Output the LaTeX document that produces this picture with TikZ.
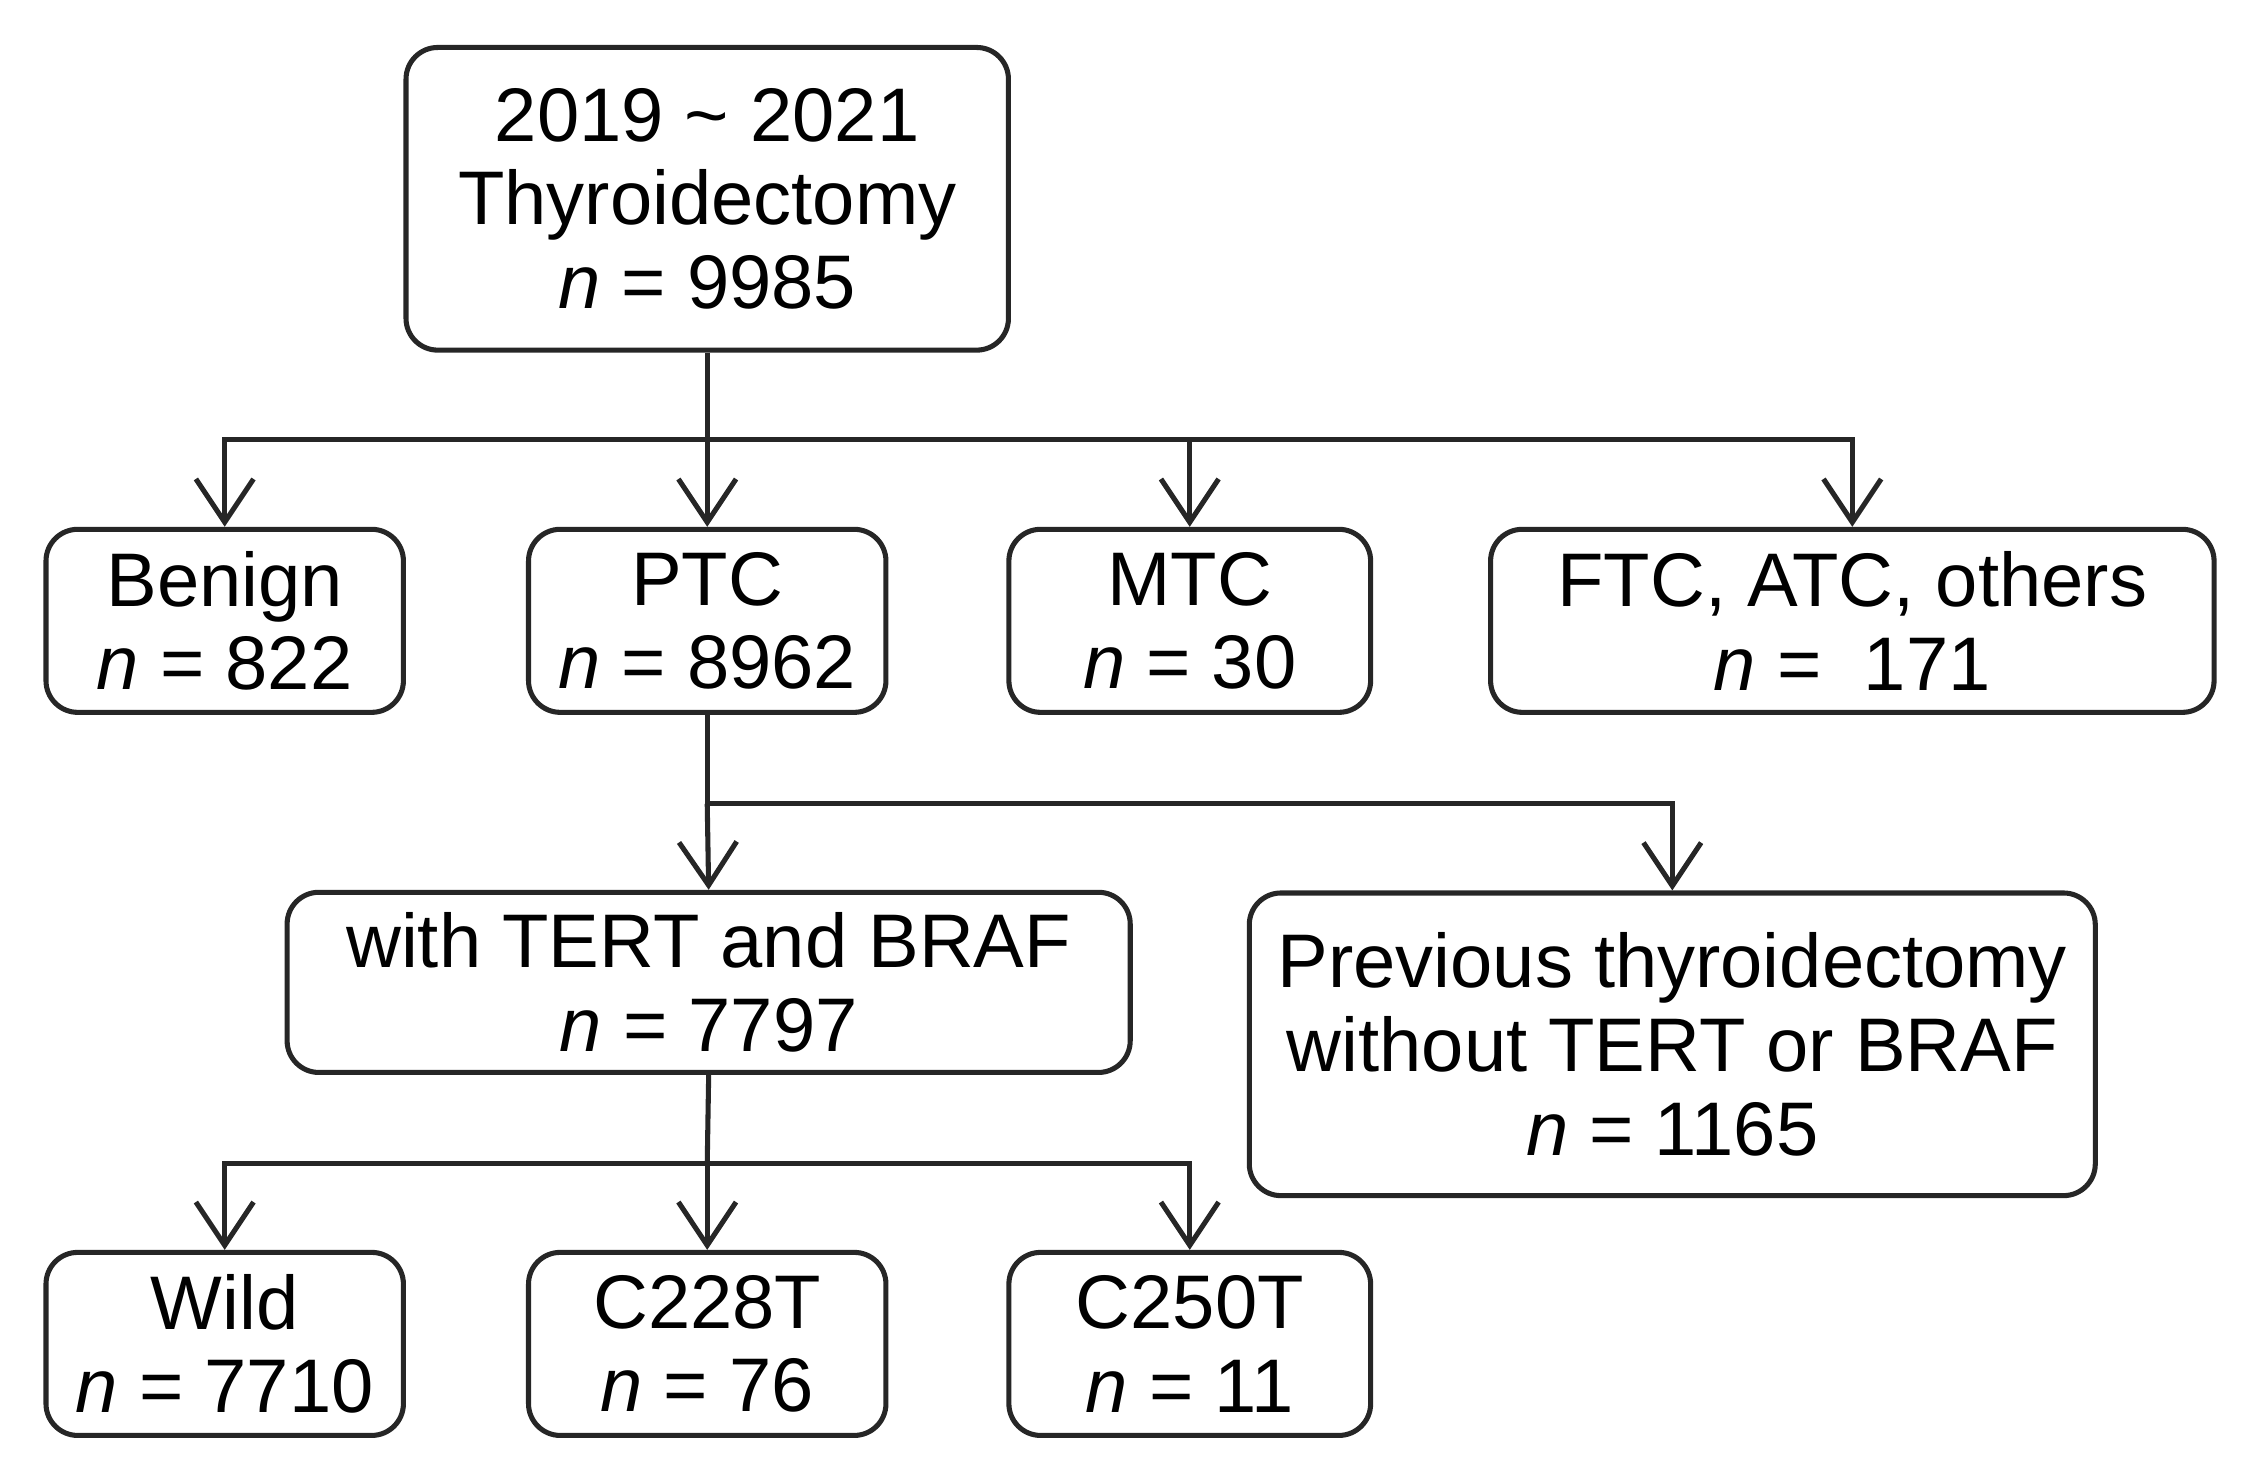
\documentclass[tikz,border=0pt]{standalone}
\usepackage{fontspec}
\setmainfont{Liberation Sans}
\usetikzlibrary{arrows.meta}
\begin{document}
\begin{tikzpicture}[x=0.01cm,y=-0.01cm,
 box/.style={draw=black!85,line width=1pt,rounded corners=0.22cm,align=center,inner sep=0pt,
   font=\fontsize{15}{16.5}\selectfont},
 arr/.style={draw=black!85,line width=1pt,-{Straight Barb[length=0.3cm,width=0.4cm]}}]
\useasboundingbox (0,0) rectangle (1560,1020);
\node[box,minimum width=4.18cm,minimum height=2.1cm] (top) at (491,138) {2019 \textasciitilde{} 2021\\Thyroidectomy\\\textit{n} = 9985};
\node[box,minimum width=2.48cm,minimum height=1.27cm] (ben) at (156,431) {Benign\\\textit{n} = 822};
\node[box,minimum width=2.48cm,minimum height=1.27cm] (ptc) at (491,431) {PTC\\\textit{n} = 8962};
\node[box,minimum width=2.51cm,minimum height=1.27cm] (mtc) at (826,431) {MTC\\\textit{n} = 30};
\node[box,minimum width=5.02cm,minimum height=1.27cm] (ftc) at (1286,431) {FTC, ATC, others\\\textit{n} =\ \ 171};
\node[box,minimum width=5.85cm,minimum height=1.25cm] (tert) at (492,682) {with TERT and BRAF\\\textit{n} = 7797};
\node[box,minimum width=5.87cm,minimum height=2.1cm] (prev) at (1161,725) {Previous thyroidectomy\\without TERT or BRAF\\\textit{n} = 1165};
\node[box,minimum width=2.48cm,minimum height=1.27cm] (wild) at (156,933) {Wild\\\textit{n} = 7710};
\node[box,minimum width=2.48cm,minimum height=1.27cm] (c228) at (491,933) {C228T\\\textit{n} = 76};
\node[box,minimum width=2.51cm,minimum height=1.27cm] (c250) at (826,933) {C250T\\\textit{n} = 11};
\coordinate (j1) at (491,305);
\coordinate (j2) at (491,558);
\coordinate (j3) at (491,808);
\draw[draw=black!85,line width=1pt] (top.south) -- (j1);
\foreach \c in {ben,ptc,mtc,ftc} \draw[arr] (j1) -| (\c.north);
\draw[draw=black!85,line width=1pt] (ptc.south) -- (j2);
\draw[arr] (j2) -- (tert.north);
\draw[arr] (j2) -| (prev.north);
\draw[draw=black!85,line width=1pt] (tert.south) -- (j3);
\foreach \c in {wild,c228,c250} \draw[arr] (j3) -| (\c.north);
\end{tikzpicture}
\end{document}
